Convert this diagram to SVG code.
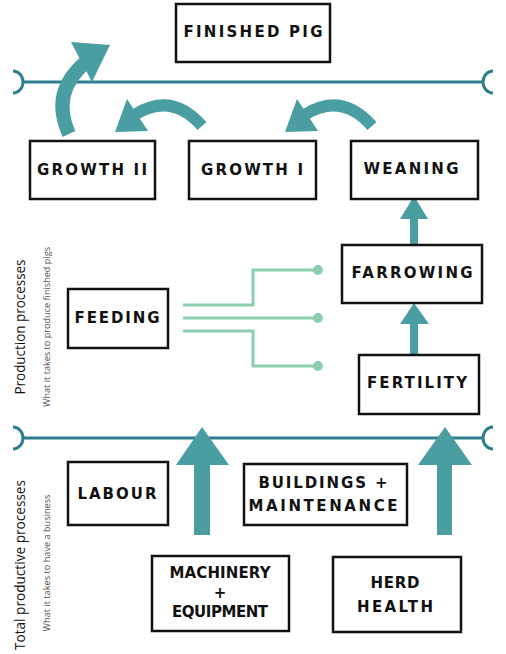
<svg xmlns="http://www.w3.org/2000/svg" width="506" height="654" viewBox="0 0 506 654">
<defs>
<style>
.box{fill:#fff;stroke:#111;stroke-width:2.5}
.lbl{font-family:"DejaVu Sans","Liberation Sans",sans-serif;font-weight:bold;font-size:15px;fill:#111;text-anchor:middle}
.rail{stroke:#2e7f8e;stroke-width:3;fill:none}
.arw{fill:#4a9ea1}
.arc{fill:none;stroke:#4a9ea1}
.feed{stroke:#8ccfb0;stroke-width:3;fill:none}
.dot{fill:#8ccfb0}
.vt{font-family:"Open Sans","Liberation Sans",sans-serif;fill:#111}
.vs{font-family:"Open Sans","Liberation Sans",sans-serif;fill:#555}
</style>
</defs>
<rect width="506" height="654" fill="#fff"/>

<g id="rails">
<path class="rail" d="M22 82 H484 M13 71 A10 11 0 0 1 13 93 M493 71 A10 11 0 0 0 493 93"/>
<path class="rail" d="M22 438 H484 M13 427 A10 11 0 0 1 13 449 M493 427 A10 11 0 0 0 493 449"/>
</g>

<g id="connectors">
<path class="arc" stroke-width="14" d="M69 134 Q50 92 86 62"/>
<polygon class="arw" points="71,42 110,45 92,82"/>
<path class="arc" stroke-width="12" d="M202 126 Q172 92 136 114"/>
<polygon class="arw" points="115,132 127,99 148,131"/>
<path class="arc" stroke-width="12" d="M372 126 Q342 92 306 114"/>
<polygon class="arw" points="285,132 297,99 318,131"/>
<polygon class="arw" points="414,196 428,219 418,219 418,252 410,252 410,219 400,219"/>
<polygon class="arw" points="414,303 429,324 418,324 418,362 410,362 410,324 400,324"/>
<polygon class="arw" points="202,427 229,465 210,465 210,535 194,535 194,465 176,465"/>
<polygon class="arw" points="445,427 472,465 452,465 452,535 437,535 437,465 418,465"/>
<path class="feed" d="M183 305 H253 V270 H318 M183 318 H318 M183 331 H253 V366 H318"/>
<circle class="dot" cx="318" cy="270" r="5"/>
<circle class="dot" cx="318" cy="318" r="5"/>
<circle class="dot" cx="318" cy="366" r="5"/>
</g>

<g id="finished-pig">
<rect class="box" x="176" y="4" width="154" height="58"/>
<text class="lbl" x="253" y="37" textLength="139" lengthAdjust="spacing">FINISHED PIG</text>
</g>
<g id="growth-ii">
<rect class="box" x="30" y="141" width="125" height="58"/>
<text class="lbl" x="92" y="175" textLength="110" lengthAdjust="spacing">GROWTH II</text>
</g>
<g id="growth-i">
<rect class="box" x="189" y="141" width="127" height="58"/>
<text class="lbl" x="252" y="175" textLength="102" lengthAdjust="spacing">GROWTH I</text>
</g>
<g id="weaning">
<rect class="box" x="351" y="141" width="127" height="58"/>
<text class="lbl" x="411" y="174" textLength="95" lengthAdjust="spacing">WEANING</text>
</g>
<g id="farrowing">
<rect class="box" x="342" y="245" width="140" height="58"/>
<text class="lbl" x="412" y="278" textLength="121" lengthAdjust="spacing">FARROWING</text>
</g>
<g id="feeding">
<rect class="box" x="68" y="289" width="100" height="59"/>
<text class="lbl" x="117" y="323" textLength="85" lengthAdjust="spacing">FEEDING</text>
</g>
<g id="fertility">
<rect class="box" x="359" y="355" width="120" height="59"/>
<text class="lbl" x="417" y="388" textLength="100" lengthAdjust="spacing">FERTILITY</text>
</g>
<g id="labour">
<rect class="box" x="68" y="462" width="100" height="63"/>
<text class="lbl" x="117" y="499" font-size="16" textLength="79" lengthAdjust="spacing">LABOUR</text>
</g>
<g id="buildings">
<rect class="box" x="244" y="464" width="163" height="61"/>
<text class="lbl" x="323" y="488" textLength="129" lengthAdjust="spacing">BUILDINGS +</text>
<text class="lbl" x="323" y="511" textLength="149" lengthAdjust="spacing">MAINTENANCE</text>
</g>
<g id="machinery">
<rect class="box" x="152" y="556" width="137" height="75" stroke-width="3.5"/>
<text class="lbl" x="220" y="578" font-size="13" textLength="101" lengthAdjust="spacing">MACHINERY</text>
<text class="lbl" x="220" y="598" font-size="11">+</text>
<text class="lbl" x="220" y="617" font-size="13" textLength="96" lengthAdjust="spacing">EQUIPMENT</text>
</g>
<g id="herd-health">
<rect class="box" x="333" y="557" width="128" height="75"/>
<text class="lbl" x="395" y="588" font-size="16" textLength="49" lengthAdjust="spacing">HERD</text>
<text class="lbl" x="395" y="612" font-size="16" textLength="76" lengthAdjust="spacing">HEALTH</text>
</g>

<g id="side-labels">
<text class="vt" font-size="14" text-anchor="middle" transform="translate(25 327) rotate(-90)" textLength="135" lengthAdjust="spacingAndGlyphs">Production processes</text>
<text class="vs" font-size="8.5" text-anchor="middle" transform="translate(50 327) rotate(-90)" textLength="160" lengthAdjust="spacingAndGlyphs">What it takes to produce finished pigs</text>
<text class="vt" font-size="15" text-anchor="middle" transform="translate(25 565) rotate(-90)" textLength="170" lengthAdjust="spacingAndGlyphs">Total productive processes</text>
<text class="vs" font-size="8.5" text-anchor="middle" transform="translate(50 563) rotate(-90)" textLength="137" lengthAdjust="spacingAndGlyphs">What it takes to have a business</text>
</g>
</svg>
